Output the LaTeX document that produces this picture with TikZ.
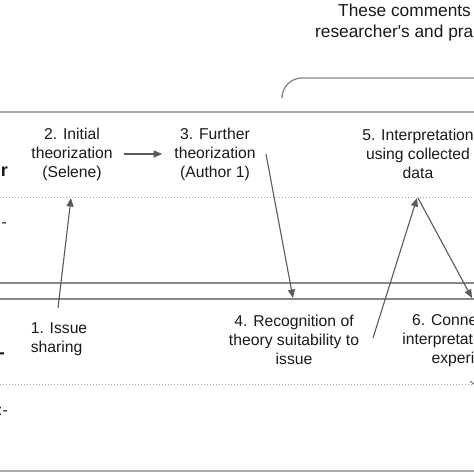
\documentclass[tikz,border=0pt]{standalone}
\usepackage{fontspec}
\setmainfont{Liberation Sans}
\usetikzlibrary{arrows.meta}
\definecolor{txt}{HTML}{1A1A1A}
\definecolor{arr}{HTML}{5A5A5A}
\definecolor{rule}{HTML}{888888}
\definecolor{lrule}{HTML}{ABABAB}
\begin{document}
\begin{tikzpicture}[x=1pt,y=-1pt,
  lbl/.style={font=\fontsize{15.7}{19}\selectfont, align=center, inner sep=0pt, text=txt},
  toptxt/.style={font=\fontsize{17.3}{21}\selectfont, inner sep=0pt, text=txt, anchor=base west},
  side/.style={inner sep=0pt, text=txt, anchor=base east},
  conn/.style={draw=arr, line width=1.1pt, -{Triangle[length=8.5pt,width=7pt]}},
  band/.style={draw=rule, line width=1.3pt},
  heavy/.style={draw=lrule, line width=2pt},
  dots/.style={draw=lrule, line width=1pt, dash pattern=on 1pt off 2pt}]
\useasboundingbox (0,0) rectangle (474,474);
\fill[white] (0,0) rectangle (474,474);
% top text and bracket
\node[toptxt] (c1) at (338,16.5) {These comments};
\node[toptxt] (c2) at (315,37.5) {researcher\textquotesingle s and pra};
\coordinate (b0) at (282,95);
\coordinate (b1) at (282,78);
\coordinate (b2) at (480,78);
\draw[draw=rule, line width=1.3pt, rounded corners=20pt] (b0) -- (b1) -- (b2);
% rules
\coordinate (t0) at (0,112); \coordinate (t1) at (474,112);
\draw[heavy] (t0) -- (t1);
\coordinate (d0) at (0,197); \coordinate (d1) at (474,197);
\draw[dots] (d0) -- (d1);
\coordinate (m0) at (0,283); \coordinate (m1) at (474,283);
\draw[band] (m0) -- (m1);
\coordinate (m2) at (0,299); \coordinate (m3) at (474,299);
\draw[band] (m2) -- (m3);
\coordinate (e0) at (0,384); \coordinate (e1) at (474,384);
\draw[dots] (e0) -- (e1);
\coordinate (f0) at (0,471); \coordinate (f1) at (474,471);
\draw[heavy] (f0) -- (f1);
% side fragments
\node[side, font=\fontsize{18}{20}\bfseries] (s1) at (8,176) {r};
\node[side, font=\fontsize{15.7}{19}\selectfont] (s2) at (7,227) {-};
\node[side, font=\fontsize{18}{20}\bfseries] (s3) at (5,358) {-};
\node[side, font=\fontsize{15.7}{19}\selectfont] (s4) at (8,415) {:-};
% steps
\node[lbl, align=left] (n1) at (59,339) {1. Issue\\sharing};
\node[lbl] (n2) at (72,154) {2. Initial\\theorization\\(Selene)};
\node[lbl] (n3) at (215,154) {3. Further\\theorization\\(Author 1)};
\node[lbl] (n4) at (294,340) {4. Recognition of\\theory suitability to\\issue};
\node[lbl] (n5) at (418,154) {5. Interpretation\\using collected\\data};
\node[lbl] (n6) at (470,340) {6. Connection of\\interpretation to the\\experience};
% connectors
\coordinate (a1s) at (58,308); \coordinate (a1e) at (71,198);
\draw[conn] (a1s) -- (a1e);
\draw[conn] ([xshift=11pt]n2.east) -- ([xshift=-12pt]n3.west);
\coordinate (a3s) at (266,154); \coordinate (a3e) at (293,298);
\draw[conn] (a3s) -- (a3e);
\coordinate (a4s) at (373,338); \coordinate (a4e) at (417,198);
\draw[conn] (a4s) -- (a4e);
\coordinate (a5s) at (418,198); \coordinate (a5e) at (472,298);
\draw[conn] (a5s) -- (a5e);
\coordinate (k0) at (470,381); \coordinate (k1) at (475,385);
\draw[draw=arr, line width=0.8pt] (k0) -- (k1);
\end{tikzpicture}
\end{document}
